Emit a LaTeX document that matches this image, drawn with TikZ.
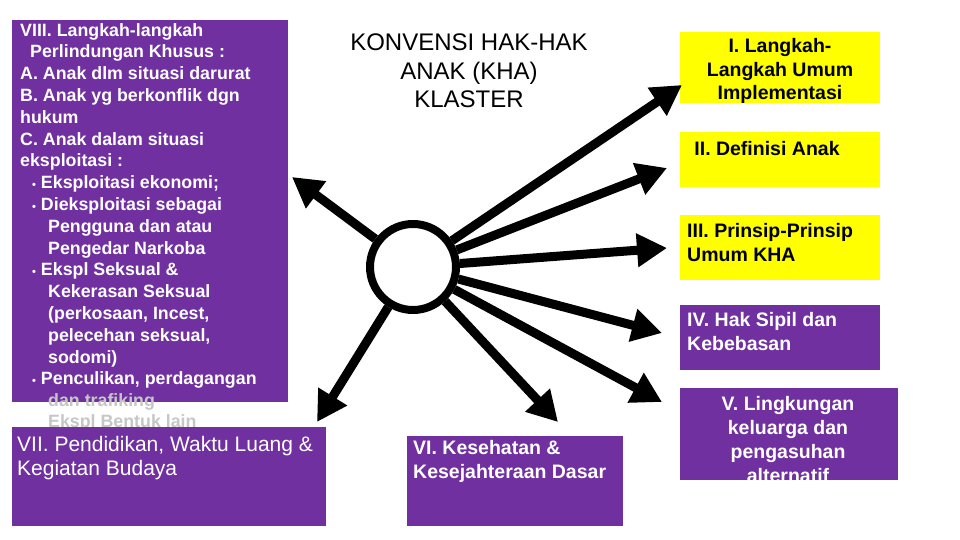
\documentclass[tikz,border=0pt]{standalone}
\usepackage{fontspec}
\setmainfont{Liberation Sans}
\usetikzlibrary{arrows.meta}
\definecolor{pur}{HTML}{7030A0}
\definecolor{yel}{HTML}{FFFF00}
\begin{document}
\begin{tikzpicture}[x=1pt,y=-1pt,
  arr/.style={line width=9pt,-{Triangle[length=30pt,width=32pt]}},
  bt/.style={font=\fontsize{19.5}{23.5}\selectfont\bfseries,align=center},
  lt/.style={font=\fontsize{17.8}{21.8}\selectfont\bfseries,align=left,text=white,anchor=north west,inner sep=0pt}]
\useasboundingbox (0,0) rectangle (960,540);
\fill[white] (0,0) rectangle (960,540);
% left box VIII
\fill[pur] (12,20) rectangle (288,402);
\node[lt] (t8) at (20,23) {VIII. Langkah-langkah\\
\hspace*{10pt}Perlindungan Khusus :\\
A. Anak dlm situasi darurat\\
B. Anak yg berkonflik dgn\\
hukum\\
C. Anak dalam situasi\\
eksploitasi :\\
\hspace*{12pt}{\fontsize{11}{11}\selectfont•} Eksploitasi ekonomi;\\
\hspace*{12pt}{\fontsize{11}{11}\selectfont•} Dieksploitasi sebagai\\
\hspace*{28pt}Pengguna dan atau\\
\hspace*{28pt}Pengedar Narkoba\\
\hspace*{12pt}{\fontsize{11}{11}\selectfont•} Ekspl Seksual \&\\
\hspace*{28pt}Kekerasan Seksual\\
\hspace*{28pt}(perkosaan, Incest,\\
\hspace*{28pt}pelecehan seksual,\\
\hspace*{28pt}sodomi)\\
\hspace*{12pt}{\fontsize{11}{11}\selectfont•} Penculikan, perdagangan};
\node[lt,text=gray!45] (t8b) at (48,393) {dan trafiking\\ Ekspl Bentuk lain};
% box VII
\fill[pur] (12,427) rectangle (326,526);
\node[lt,font=\fontsize{21}{24}\selectfont] (t7) at (17,436) {VII. Pendidikan, Waktu Luang \&\\Kegiatan Budaya};
% box VI
\fill[pur] (407,436) rectangle (623,526);
\node[lt,font=\fontsize{19.5}{24}\selectfont\bfseries] (t6) at (413,440) {VI. Kesehatan \&\\Kesejahteraan Dasar};
% title
\node[align=center,font=\fontsize{24}{28.5}\selectfont] (title) at (469,71) {KONVENSI HAK-HAK\\ANAK (KHA)\\KLASTER};
% right boxes
\fill[yel] (680,32) rectangle (880,103);
\node[bt] (t1) at (780,71) {I. Langkah-\\Langkah Umum\\Implementasi};
\fill[yel] (680,132) rectangle (880,187);
\node[bt] (t2) at (767,149) {II. Definisi Anak};
\fill[yel] (680,215) rectangle (880,280);
\node[lt,text=black,font=\fontsize{19.5}{24}\selectfont\bfseries] (t3) at (687,223) {III. Prinsip-Prinsip\\Umum KHA};
\fill[pur] (680,305) rectangle (880,370);
\node[lt,font=\fontsize{19.5}{24}\selectfont\bfseries] (t4) at (687,312) {IV. Hak Sipil dan\\Kebebasan};
\fill[pur] (680,388) rectangle (898,480);
\begin{scope}
\clip (680,388) rectangle (898,480);
\node[bt,text=white,anchor=north,font=\fontsize{19.5}{24}\selectfont\bfseries] (t5) at (788,393) {V. Lingkungan\\keluarga dan\\pengasuhan\\alternatif};
\end{scope}
% circle and arrows
\node[circle,draw,line width=8pt,minimum size=86pt,fill=white] (c) at (413,267) {};
\coordinate (a8) at (292,177);
\coordinate (a1) at (682,85);
\coordinate (a2) at (667,168);
\coordinate (a3) at (667,248);
\coordinate (a4) at (662,333);
\coordinate (a5) at (662,402);
\coordinate (a6) at (558,422);
\coordinate (a7) at (317,422);
\foreach \t in {a8,a1,a2,a3,a4,a5,a6,a7} \draw[arr] (c) -- (\t);
\end{tikzpicture}
\end{document}
